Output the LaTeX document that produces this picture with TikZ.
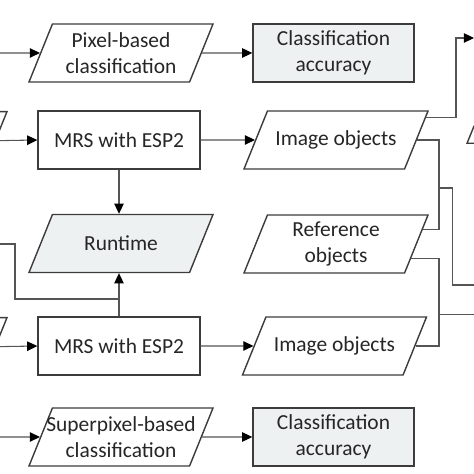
\documentclass[tikz,border=0pt]{standalone}
\usepackage{fontspec}
\setmainfont{Carlito}
\usepackage{xcolor}
\definecolor{fgray}{RGB}{60,60,60}
\definecolor{lgray}{RGB}{85,85,85}
\definecolor{rfill}{RGB}{237,241,241}
\usetikzlibrary{arrows.meta,positioning,shapes.geometric,calc}
% fixed-size text block for the slanted boxes
\newcommand{\dtxt}[1]{\parbox[c][0.88cm][c]{3.1cm}{\centering #1}}
\tikzset{
  pbox/.style={draw=fgray, line width=0.8pt, fill=white, font=\fontsize{12.2}{14.8}\selectfont,
               minimum width=3.24cm, minimum height=1.16cm, align=center, text=black!85},
  rbox/.style={pbox, fill=rfill, minimum width=3.22cm},
  dbox/.style={trapezium, trapezium left angle=68, trapezium right angle=112,
               trapezium stretches body, draw=fgray, line width=0.8pt, fill=#1,
               font=\fontsize{12.2}{14.8}\selectfont, inner xsep=-0.2cm, inner ysep=0.14cm,
               minimum width=3.68cm, minimum height=1.16cm, text=black!85},
  dbox/.default=white,
  flow/.style={draw=lgray, line width=0.6pt, -{Triangle[length=5.8pt, width=5.4pt, color=black]}},
  link/.style={draw=lgray, line width=0.6pt},
}
\begin{document}
\begin{tikzpicture}
\useasboundingbox (0,0) rectangle (9.48,9.48);
\clip (0,0) rectangle (9.48,9.48);

% Left column
\node[dbox] (pix) at (2.42,8.42) {\dtxt{Pixel-based\\classification}};
\node[pbox] (mrsA) at (2.38,6.68) {MRS with ESP2};
\node[dbox=rfill] (run) at (2.42,4.61) {\dtxt{Runtime}};
\node[pbox] (mrsB) at (2.38,2.56) {MRS with ESP2};
\node[dbox] (spix) at (2.42,0.74) {\dtxt{Superpixel-based\\classification}};

% Right column
\node[rbox] (accA) at (6.67,8.42) {Classification\\accuracy};
\node[dbox] (imgA) at (6.72,6.68) {\dtxt{Image objects}};
\node[dbox] (refo) at (6.72,4.60) {\dtxt{Reference\\objects}};
\node[dbox] (imgB) at (6.69,2.56) {\dtxt{Image objects}};
\node[rbox] (accB) at (6.67,0.74) {Classification\\accuracy};

% Shapes cut off by the edges
\node[dbox, anchor=top right corner] (inA) at (0.16,7.26) {\dtxt{}};
\node[dbox, anchor=top right corner] (inB) at (0.16,3.14) {\dtxt{}};
\node[dbox, inner ysep=0.17cm, minimum height=0.34cm, anchor=bottom left corner] (outR) at (9.32,6.60) {};

% Free ends at the edges
\coordinate (srcP) at (0,8.42);
\coordinate (srcR) at (0,4.60);
\coordinate (srcS) at (0,0.74);
\coordinate (dstA) at (9.48,8.72);
\coordinate (dstB) at (9.48,3.78);
\coordinate (dstC) at (9.48,3.19);

% Left arrows
\draw[flow] (srcP) -- (pix.west);
\draw[flow] (pix.east) -- (accA.west);
\draw[flow] (inA.east) -- (mrsA.west);
\draw[flow] (mrsA.east) -- (imgA.west);
\draw[flow] (mrsA.south) -- (mrsA.south |- run.north);
\draw[flow] (mrsB.north) -- (mrsB.north |- run.south);
\draw[link] (srcR) -| (0.30,3.50) -- (mrsB.north |- 0,3.50);
\draw[flow] (inB.east) -- (mrsB.west);
\draw[flow] (mrsB.east) -- (imgB.west);
\draw[flow] (srcS) -- (spix.west);
\draw[flow] (spix.east) -- (accB.west);

% Right-hand joins
\coordinate (tA) at ($(imgA.top right corner)!0.12!(imgA.bottom right corner)$);
\coordinate (rA) at ($(refo.top right corner)!0.25!(refo.bottom right corner)$);
\coordinate (rB) at ($(refo.top right corner)!0.75!(refo.bottom right corner)$);
\draw[flow] (tA) -| (9.12,8.72) -- (dstA);
\draw[link] (imgA.east) -| (8.78,5.72) |- (rA);
\draw[link] (8.78,5.72) -| (9.05,3.78) -- (dstB);
\draw[link] (rB) -| (8.78,3.19) |- (imgB.east);
\draw[link] (8.78,3.19) -- (dstC);

\end{tikzpicture}
\end{document}
